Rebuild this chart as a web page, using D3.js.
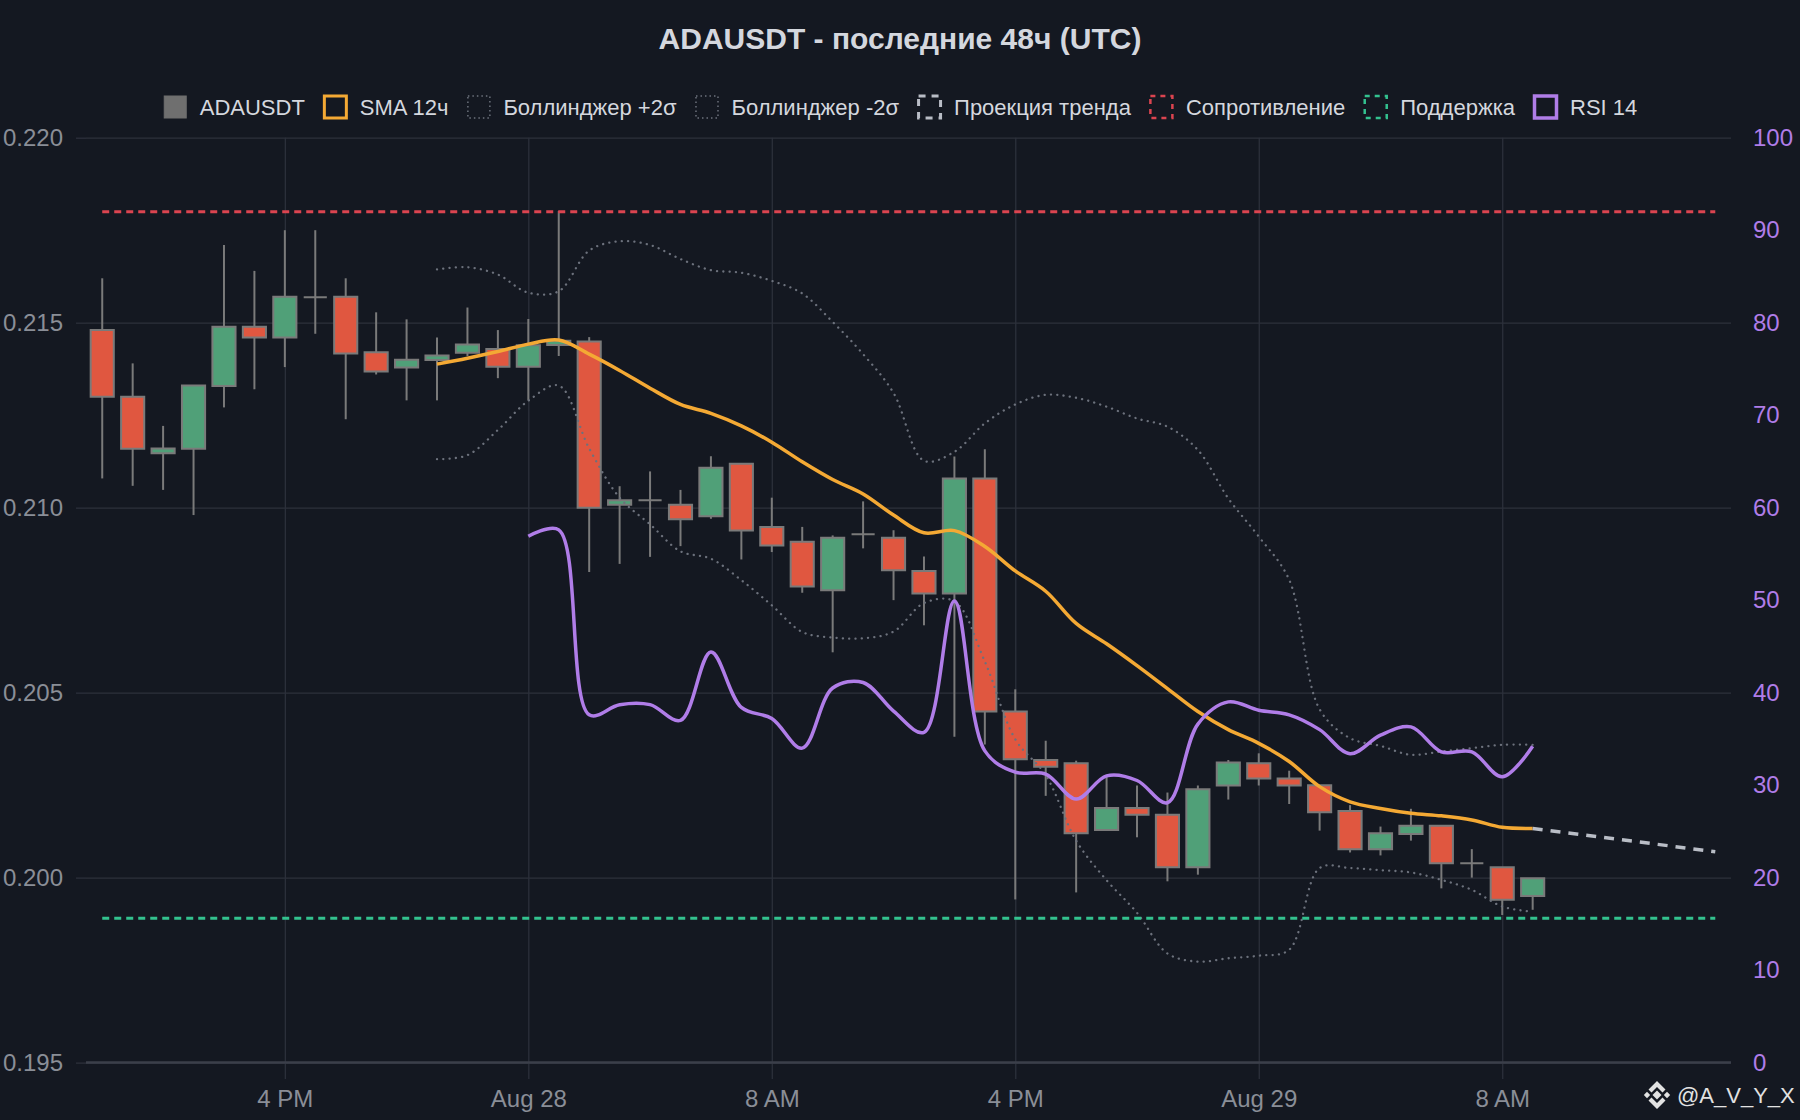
<!DOCTYPE html>
<html>
<head>
<meta charset="utf-8">
<script src="https://cdn.jsdelivr.net/npm/d3@7/dist/d3.min.js"></script>
<style>
  body { margin: 0; background: #141821; }
  #chart svg { display: block; }
</style>
</head>
<body>
<div id="chart"></div>
<script>
// Config {{{
/*jshint esversion: 6 */
// }}}
// Data {{{
const candle_times = [
    "2025-08-27T10:00:00Z", "2025-08-27T11:00:00Z", "2025-08-27T12:00:00Z", "2025-08-27T13:00:00Z",
    "2025-08-27T14:00:00Z", "2025-08-27T15:00:00Z", "2025-08-27T16:00:00Z", "2025-08-27T17:00:00Z",
    "2025-08-27T18:00:00Z", "2025-08-27T19:00:00Z", "2025-08-27T20:00:00Z", "2025-08-27T21:00:00Z",
    "2025-08-27T22:00:00Z", "2025-08-27T23:00:00Z", "2025-08-28T00:00:00Z", "2025-08-28T01:00:00Z",
    "2025-08-28T02:00:00Z", "2025-08-28T03:00:00Z", "2025-08-28T04:00:00Z", "2025-08-28T05:00:00Z",
    "2025-08-28T06:00:00Z", "2025-08-28T07:00:00Z", "2025-08-28T08:00:00Z", "2025-08-28T09:00:00Z",
    "2025-08-28T10:00:00Z", "2025-08-28T11:00:00Z", "2025-08-28T12:00:00Z", "2025-08-28T13:00:00Z",
    "2025-08-28T14:00:00Z", "2025-08-28T15:00:00Z", "2025-08-28T16:00:00Z", "2025-08-28T17:00:00Z",
    "2025-08-28T18:00:00Z", "2025-08-28T19:00:00Z", "2025-08-28T20:00:00Z", "2025-08-28T21:00:00Z",
    "2025-08-28T22:00:00Z", "2025-08-28T23:00:00Z", "2025-08-29T00:00:00Z", "2025-08-29T01:00:00Z",
    "2025-08-29T02:00:00Z", "2025-08-29T03:00:00Z", "2025-08-29T04:00:00Z", "2025-08-29T05:00:00Z",
    "2025-08-29T06:00:00Z", "2025-08-29T07:00:00Z", "2025-08-29T08:00:00Z", "2025-08-29T09:00:00Z"];

const opens = [
    0.21480, 0.21300, 0.21147, 0.21159, 0.21329, 0.21489, 0.21460, 0.21569,
    0.21570, 0.21420, 0.21379, 0.21399, 0.21419, 0.21429, 0.21381, 0.21440,
    0.21449, 0.21008, 0.21020, 0.21008, 0.20977, 0.21119, 0.20948, 0.20908,
    0.20777, 0.20928, 0.20919, 0.20829, 0.20768, 0.21079, 0.20449, 0.20318,
    0.20309, 0.20129, 0.20188, 0.20170, 0.20028, 0.20249, 0.20309, 0.20268,
    0.20250, 0.20180, 0.20077, 0.20118, 0.20140, 0.20039, 0.20028, 0.19950];
const highs = [
    0.21620, 0.21390, 0.21221, 0.21330, 0.21710, 0.21640, 0.21750, 0.21750,
    0.21620, 0.21528, 0.21509, 0.21460, 0.21541, 0.21480, 0.21510, 0.21802,
    0.21461, 0.21058, 0.21098, 0.21048, 0.21139, 0.21119, 0.21027, 0.20948,
    0.20925, 0.21017, 0.20939, 0.20868, 0.21138, 0.21158, 0.20509, 0.20370,
    0.20316, 0.20272, 0.20249, 0.20230, 0.20249, 0.20318, 0.20336, 0.20289,
    0.20250, 0.20196, 0.20138, 0.20186, 0.20140, 0.20077, 0.20028, 0.19998];
const lows = [
    0.21079, 0.21059, 0.21048, 0.20980, 0.21271, 0.21320, 0.21380, 0.21470,
    0.21239, 0.21360, 0.21290, 0.21290, 0.21410, 0.21350, 0.21290, 0.21410,
    0.20826, 0.20848, 0.20867, 0.20896, 0.20970, 0.20860, 0.20880, 0.20770,
    0.20609, 0.20890, 0.20750, 0.20682, 0.20381, 0.20360, 0.19941, 0.20221,
    0.19960, 0.20129, 0.20109, 0.19990, 0.20008, 0.20211, 0.20249, 0.20199,
    0.20127, 0.20068, 0.20060, 0.20100, 0.19971, 0.20000, 0.19899, 0.19913];
const closes = [
    0.21300, 0.21159, 0.21160, 0.21330, 0.21489, 0.21460, 0.21570, 0.21569,
    0.21417, 0.21368, 0.21400, 0.21411, 0.21441, 0.21381, 0.21439, 0.21451,
    0.21000, 0.21020, 0.21020, 0.20969, 0.21108, 0.20938, 0.20898, 0.20787,
    0.20919, 0.20928, 0.20831, 0.20768, 0.21079, 0.20449, 0.20320, 0.20300,
    0.20120, 0.20188, 0.20170, 0.20028, 0.20239, 0.20311, 0.20268, 0.20249,
    0.20177, 0.20077, 0.20120, 0.20140, 0.20039, 0.20039, 0.19940, 0.19998];

// SMA / bollinger start at candle 11 (21:00), RSI at candle 14 (00:00)
const sma_start = 11;
const sma_values = [
    0.21388, 0.21404, 0.21422, 0.21442, 0.21453, 0.21415, 0.21371, 0.21323,
    0.21279, 0.21255, 0.21221, 0.21177, 0.21124, 0.21076, 0.21037, 0.20980,
    0.20932, 0.20938, 0.20895, 0.20829, 0.20774, 0.20687, 0.20632, 0.20573,
    0.20511, 0.20449, 0.20400, 0.20363, 0.20314, 0.20246, 0.20205, 0.20187,
    0.20174, 0.20167, 0.20156, 0.20136, 0.20133];
const bb_upper = [
    0.21644, 0.21650, 0.21630, 0.21581, 0.21585, 0.21695, 0.21720, 0.21710,
    0.21672, 0.21642, 0.21635, 0.21613, 0.21579, 0.21502, 0.21415, 0.21310,
    0.21127, 0.21151, 0.21228, 0.21279, 0.21305, 0.21297, 0.21273, 0.21241,
    0.21219, 0.21156, 0.21025, 0.20922, 0.20805, 0.20455, 0.20377, 0.20356,
    0.20332, 0.20341, 0.20350, 0.20359, 0.20359];
const bb_lower = [
    0.21131, 0.21142, 0.21210, 0.21289, 0.21330, 0.21160, 0.21027, 0.20955,
    0.20882, 0.20862, 0.20804, 0.20736, 0.20664, 0.20649, 0.20647, 0.20665,
    0.20742, 0.20747, 0.20584, 0.20374, 0.20277, 0.20100, 0.19993, 0.19905,
    0.19795, 0.19773, 0.19782, 0.19789, 0.19805, 0.20026, 0.20026, 0.20020,
    0.20014, 0.19994, 0.19967, 0.19922, 0.19908];
const rsi_start = 14;
const rsi_values = [
    56.9, 57.6, 37.6, 38.7, 38.7, 37.0, 44.4, 38.4, 37.2, 34.0,
    40.5, 41.1, 38.0, 35.7, 49.9, 33.7, 31.4, 31.2, 28.5, 31.0,
    30.5, 28.1, 36.6, 39.0, 38.1, 37.6, 36.0, 33.4, 35.4, 36.3,
    33.6, 33.6, 30.9, 34.2];

const trend_times = ["2025-08-29T09:00:00Z", "2025-08-29T15:00:00Z"];
const trend_values = [0.20133, 0.20070];
const level_times = ["2025-08-27T10:00:00Z", "2025-08-29T15:00:00Z"];
const resistance_level = 0.2180;
const support_level = 0.1989;

const price_ticks = [0.195, 0.200, 0.205, 0.210, 0.215, 0.220];
const rsi_ticks = [0, 10, 20, 30, 40, 50, 60, 70, 80, 90, 100];
const x_tick_times = ["2025-08-27T16:00:00Z", "2025-08-28T00:00:00Z", "2025-08-28T08:00:00Z",
                      "2025-08-28T16:00:00Z", "2025-08-29T00:00:00Z", "2025-08-29T08:00:00Z"];
const x_tick_labels = ["4 PM", "Aug 28", "8 AM", "4 PM", "Aug 29", "8 AM"];

const title_text = "ADAUSDT - последние 48ч (UTC)";
const legend_labels = ["ADAUSDT", "SMA 12ч", "Боллинджер +2σ", "Боллинджер -2σ",
                       "Проекция тренда", "Сопротивление", "Поддержка", "RSI 14"];
const watermark_text = "@A_V_Y_X";
// }}}
// Consts {{{
const width = 1800;
const height = 1120;
const plot = {left: 86, right: 1731, top: 137.7, bottom: 1062.6, grid_bottom: 1079};
const font = "'Liberation Sans', Arial, sans-serif";
const tick_size = 24;

const background_color = "#141821";
const grid_color = "#2c303b";
const zero_color = "#3b3f4a";
const tick_color = "#8a8e97";
const text_color = "#d4d7de";
const up_color = "#50a078";
const down_color = "#e05740";
const candle_line = "#7a7a7a";
const sma_color = "#f4a934";
const bb_color = "#6c717c";
const trend_color = "#b9bdc6";
const resist_color = "#db4450";
const support_color = "#33c28f";
const rsi_color = "#b07de8";

const parse = d3.isoParse;

const svg = d3.select("#chart").append("svg")
    .attr("width", width)
    .attr("height", height)
    .style("background", background_color)
    .style("font-family", font);

const x = d3.scaleUtc()
    .domain([parse("2025-08-27T09:28:00Z"), parse("2025-08-29T15:31:00Z")])
    .range([plot.left, plot.right]);
const y = d3.scaleLinear().domain([0.195, 0.220]).range([plot.bottom, plot.top]);
const y_rsi = d3.scaleLinear().domain([0, 100]).range([plot.bottom, plot.top]);
// }}}
// helpers {{{
// style_axis(g) {{{
// strips the domain path and colours the tick marks
function style_axis(g, color, size) {
    g.select(".domain").remove();
    g.selectAll(".tick line").attr("stroke", grid_color).attr("stroke-width", 1.3);
    g.selectAll(".tick text")
        .attr("fill", color)
        .style("font-size", size + "px")
        .style("font-family", font);
}
//}}}
// series(times, values) {{{
function series(times, values) {
    return values.map((v, i) => ({t: times[i], v: v}));
}
//}}}
//}}}
// Plotting {{{
// draw_grid() {{{
function draw_grid() {
    svg.append("g")
        .attr("transform", "translate(0," + plot.grid_bottom + ")")
        .call(d3.axisBottom(x)
            .tickValues(x_tick_times.map(parse))
            .tickSize(-(plot.grid_bottom - plot.top))
            .tickFormat(""))
        .call(g => style_axis(g, tick_color, tick_size));

    svg.append("g")
        .attr("transform", "translate(" + plot.left + ",0)")
        .call(d3.axisLeft(y)
            .tickValues(price_ticks)
            .tickSize(-(plot.right - plot.left))
            .tickFormat(""))
        .call(g => style_axis(g, tick_color, tick_size));

    // rsi zero line sits on 0.195
    svg.append("line")
        .attr("x1", plot.left)
        .attr("x2", plot.right)
        .attr("y1", y_rsi(0))
        .attr("y2", y_rsi(0))
        .attr("stroke", zero_color)
        .attr("stroke-width", 2.5);
}
//}}}
// draw_axes() {{{
function draw_axes() {
    svg.append("g")
        .attr("transform", "translate(" + plot.left + ",0)")
        .call(d3.axisLeft(y)
            .tickValues(price_ticks)
            .tickSize(10)
            .tickPadding(13)
            .tickFormat(d3.format(".3f")))
        .call(g => style_axis(g, tick_color, tick_size));

    svg.append("g")
        .attr("transform", "translate(" + plot.right + ",0)")
        .call(d3.axisRight(y_rsi)
            .tickValues(rsi_ticks)
            .tickSize(0)
            .tickPadding(22))
        .call(g => style_axis(g, rsi_color, tick_size));

    svg.append("g")
        .attr("transform", "translate(0," + plot.grid_bottom + ")")
        .call(d3.axisBottom(x)
            .tickValues(x_tick_times.map(parse))
            .tickSize(0)
            .tickPadding(11)
            .tickFormat((d, i) => x_tick_labels[i]))
        .call(g => style_axis(g, tick_color, tick_size));
}
//}}}
// plot_candles() {{{
function plot_candles() {
    const candles = candle_times.map((t, i) => ({
        t: parse(t), o: opens[i], h: highs[i], l: lows[i], c: closes[i]
    }));
    const bw = (x(candles[1].t) - x(candles[0].t)) * 0.76;
    const g = svg.append("g").attr("class", "candles");

    g.selectAll("line.wick")
        .data(candles)
        .enter()
        .append("line")
        .attr("x1", d => x(d.t))
        .attr("x2", d => x(d.t))
        .attr("y1", d => y(d.h))
        .attr("y2", d => y(d.l))
        .attr("stroke", candle_line)
        .attr("stroke-width", 2);

    // path instead of rect so a doji still shows its border
    g.selectAll("path.body")
        .data(candles)
        .enter()
        .append("path")
        .attr("d", d => {
            const x0 = x(d.t) - bw / 2;
            const y0 = y(Math.max(d.o, d.c));
            const y1 = y(Math.min(d.o, d.c));
            return "M" + x0 + "," + y0 + "H" + (x0 + bw) + "V" + y1 + "H" + x0 + "Z";
        })
        .attr("fill", d => d.c > d.o ? up_color : down_color)
        .attr("stroke", candle_line)
        .attr("stroke-width", 2);
}
//}}}
// plot_line(data, scale, color, w, dash, curve) {{{
function plot_line(data, scale, color, w, dash, curve) {
    const line = d3.line()
        .x(d => x(parse(d.t)))
        .y(d => scale(d.v))
        .curve(curve || d3.curveLinear);
    const p = svg.append("path")
        .datum(data)
        .attr("d", line)
        .attr("fill", "none")
        .attr("stroke", color)
        .attr("stroke-width", w)
        .attr("stroke-linejoin", "round");
    if (dash) {
        p.attr("stroke-dasharray", dash);
    }
    return p;
}
//}}}
// plot_indicators() {{{
function plot_indicators() {
    const smooth = d3.curveCatmullRom.alpha(0.5);
    const sma_times = candle_times.slice(sma_start);
    plot_line(series(sma_times, sma_values), y, sma_color, 3.5, null, smooth);
    plot_line(series(sma_times, bb_upper), y, bb_color, 2.3, "0.1,6.2", smooth)
        .attr("stroke-linecap", "round");
    plot_line(series(sma_times, bb_lower), y, bb_color, 2.3, "0.1,6.2", smooth)
        .attr("stroke-linecap", "round");
    plot_line(series(trend_times, trend_values), y, trend_color, 3.5, "10,8");
    plot_line(series(level_times, [resistance_level, resistance_level]), y, resist_color, 3, "7,5");
    plot_line(series(level_times, [support_level, support_level]), y, support_color, 3, "7,5");
    plot_line(series(candle_times.slice(rsi_start), rsi_values), y_rsi, rsi_color, 3.5, null, smooth);
}
//}}}
// draw_legend() {{{
function draw_legend() {
    const styles = [
        {fill: "#6f6f6f", stroke: "#6f6f6f", dash: null, w: 1},
        {fill: "none", stroke: sma_color, dash: null, w: 3},
        {fill: "none", stroke: bb_color, dash: "1.5,3", w: 1.5},
        {fill: "none", stroke: bb_color, dash: "1.5,3", w: 1.5},
        {fill: "none", stroke: trend_color, dash: "7,6", w: 3},
        {fill: "none", stroke: resist_color, dash: "5,5", w: 2.5},
        {fill: "none", stroke: support_color, dash: "5,5", w: 2.5},
        {fill: "none", stroke: rsi_color, dash: null, w: 3.5}
    ];
    const g = svg.append("g");
    const cy = 107;
    let cx = 0;
    legend_labels.forEach((label, i) => {
        const s = styles[i];
        g.append("rect")
            .attr("x", cx + 1.5)
            .attr("y", cy - 11)
            .attr("width", 22)
            .attr("height", 22)
            .attr("fill", s.fill)
            .attr("stroke", s.stroke)
            .attr("stroke-width", s.w)
            .attr("stroke-dasharray", s.dash);
        const t = g.append("text")
            .attr("x", cx + 37)
            .attr("y", cy)
            .attr("dy", "0.35em")
            .attr("fill", text_color)
            .style("font-size", "22px")
            .text(label);
        cx += 37 + t.node().getComputedTextLength() + 18;
    });
    const total = cx - 18;
    g.attr("transform", "translate(" + (width / 2 - total / 2) + ",0)");
}
//}}}
// draw_title() {{{
function draw_title() {
    svg.append("text")
        .attr("x", width / 2)
        .attr("y", 38)
        .attr("dy", "0.35em")
        .attr("text-anchor", "middle")
        .attr("fill", text_color)
        .style("font-size", "30px")
        .style("font-weight", "bold")
        .text(title_text);
}
//}}}
// draw_watermark() {{{
function draw_watermark() {
    const g = svg.append("g").attr("transform", "translate(1657,1095)");
    const shapes = [
        "M0,-4.5L4.5,0L0,4.5L-4.5,0Z",
        "M-10,-3.2L-6.8,0L-10,3.2L-13.2,0Z",
        "M10,-3.2L13.2,0L10,3.2L6.8,0Z",
        "M0,-14L8.5,-5.5L5.5,-2.5L0,-8L-5.5,-2.5L-8.5,-5.5Z",
        "M0,14L8.5,5.5L5.5,2.5L0,8L-5.5,2.5L-8.5,5.5Z"
    ];
    g.selectAll("path")
        .data(shapes)
        .enter()
        .append("path")
        .attr("d", d => d)
        .attr("fill", "#e2e2e2");
    svg.append("text")
        .attr("x", 1677)
        .attr("y", 1095)
        .attr("dy", "0.35em")
        .attr("fill", "#e2e2e2")
        .style("font-size", "22px")
        .text(watermark_text);
}
//}}}
//}}}
// Graph Creation {{{
draw_grid();
draw_axes();
plot_candles();
plot_indicators();
draw_legend();
draw_title();
draw_watermark();
// }}}
</script>
</body>
</html>
